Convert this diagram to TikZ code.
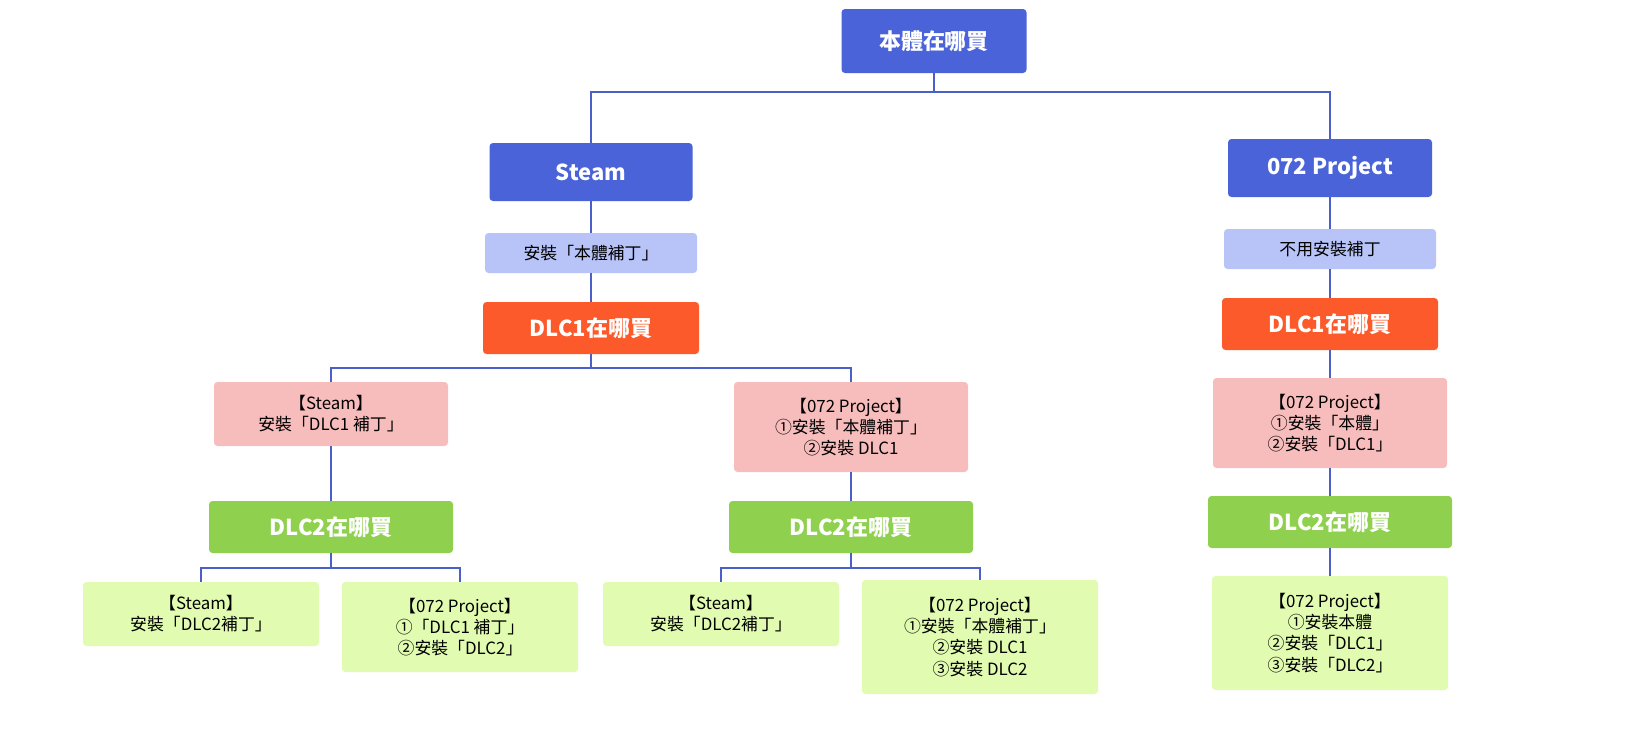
\documentclass[tikz,border=0pt]{standalone}
\usepackage{fontspec}
\setmainfont{Noto Sans CJK TC}
\definecolor{topblue}{HTML}{4A63D8}
\definecolor{lineblue}{HTML}{4A5FC8}
\definecolor{paleblue}{HTML}{B8C4F8}
\definecolor{dlcorange}{HTML}{FC5A2A}
\definecolor{palepink}{HTML}{F7BCBC}
\definecolor{dlcgreen}{HTML}{8FD14F}
\definecolor{palegreen}{HTML}{E1FBB0}
\begin{document}
\begin{tikzpicture}[x=0.02cm, y=-0.02cm,
     box/.style 2 args = {rectangle, rounded corners=2pt, align=center, inner sep=1pt,
      minimum width=#1*0.02cm, minimum height=#2*0.02cm},
     title/.style = {fill=topblue, text=white, font=\fontsize{12.5}{15}\selectfont\bfseries},
     dlcone/.style = {fill=dlcorange, text=white, font=\fontsize{12.5}{15}\selectfont\bfseries},
     dlctwo/.style = {fill=dlcgreen, text=white, font=\fontsize{12.5}{15}\selectfont\bfseries},
     note/.style = {fill=paleblue, font=\fontsize{9.6}{12}\selectfont},
     howto/.style = {fill=palepink, font=\fontsize{9.6}{12}\selectfont},
     leaf/.style = {fill=palegreen, font=\fontsize{9.6}{12}\selectfont},
     link/.style = {draw=lineblue, line width=1.1pt}
    ]
    \useasboundingbox (0,0) rectangle (1645,748);

    \node [box={185}{64}, title] (root) at (934,41) {本體在哪買};
    \node [box={203}{58}, title] (steam) at (591,172) {Steam};
    \node [box={204}{58}, title] (prj) at (1330,168) {072 Project};
    \node [box={212}{40}, note] (patchA) at (591,253) {安裝「本體補丁」};
    \node [box={212}{40}, note] (patchB) at (1330,249) {不用安裝補丁};
    \node [box={216}{52}, dlcone] (dlcA) at (591,328) {DLC1在哪買};
    \node [box={216}{52}, dlcone] (dlcB) at (1330,324) {DLC1在哪買};
    \node [box={234}{64}, howto] (stA) at (331,414) {【Steam】\\安裝「DLC1 補丁」};
    \node [box={234}{90}, howto] (stB) at (851,427) {【072 Project】\\①安裝「本體補丁」\\②安裝 DLC1};
    \node [box={234}{90}, howto] (stC) at (1330,423) {【072 Project】\\①安裝「本體」\\②安裝「DLC1」};
    \node [box={244}{52}, dlctwo] (twoA) at (331,527) {DLC2在哪買};
    \node [box={244}{52}, dlctwo] (twoB) at (851,527) {DLC2在哪買};
    \node [box={244}{52}, dlctwo] (twoC) at (1330,522) {DLC2在哪買};
    \node [box={236}{64}, leaf] (lfA) at (201,614) {【Steam】\\安裝「DLC2補丁」};
    \node [box={236}{90}, leaf] (lfB) at (460,627) {【072 Project】\\①「DLC1 補丁」\\②安裝「DLC2」};
    \node [box={236}{64}, leaf] (lfC) at (721,614) {【Steam】\\安裝「DLC2補丁」};
    \node [box={236}{114}, leaf] (lfD) at (980,637) {【072 Project】\\①安裝「本體補丁」\\②安裝 DLC1\\③安裝 DLC2};
    \node [box={236}{114}, leaf] (lfE) at (1330,633) {【072 Project】\\①安裝本體\\②安裝「DLC1」\\③安裝「DLC2」};

    \coordinate (jroot) at (934,92);
    \coordinate (jdlc) at (591,368);
    \coordinate (jtwo) at (331,568);
    \coordinate (jthree) at (851,568);

    \draw [link] (root) -- (jroot) -| (steam);
    \draw [link] (jroot) -| (prj);
    \draw [link] (steam) -- (patchA) -- (dlcA);
    \draw [link] (prj) -- (patchB) -- (dlcB) -- (stC) -- (twoC) -- (lfE);
    \draw [link] (dlcA) -- (jdlc) -| (stA);
    \draw [link] (jdlc) -| (stB);
    \draw [link] (stA) -- (twoA);
    \draw [link] (stB) -- (twoB);
    \draw [link] (twoA) -- (jtwo) -| (lfA);
    \draw [link] (jtwo) -| (lfB);
    \draw [link] (twoB) -- (jthree) -| (lfC);
    \draw [link] (jthree) -| (lfD);
\end{tikzpicture}
\end{document}
